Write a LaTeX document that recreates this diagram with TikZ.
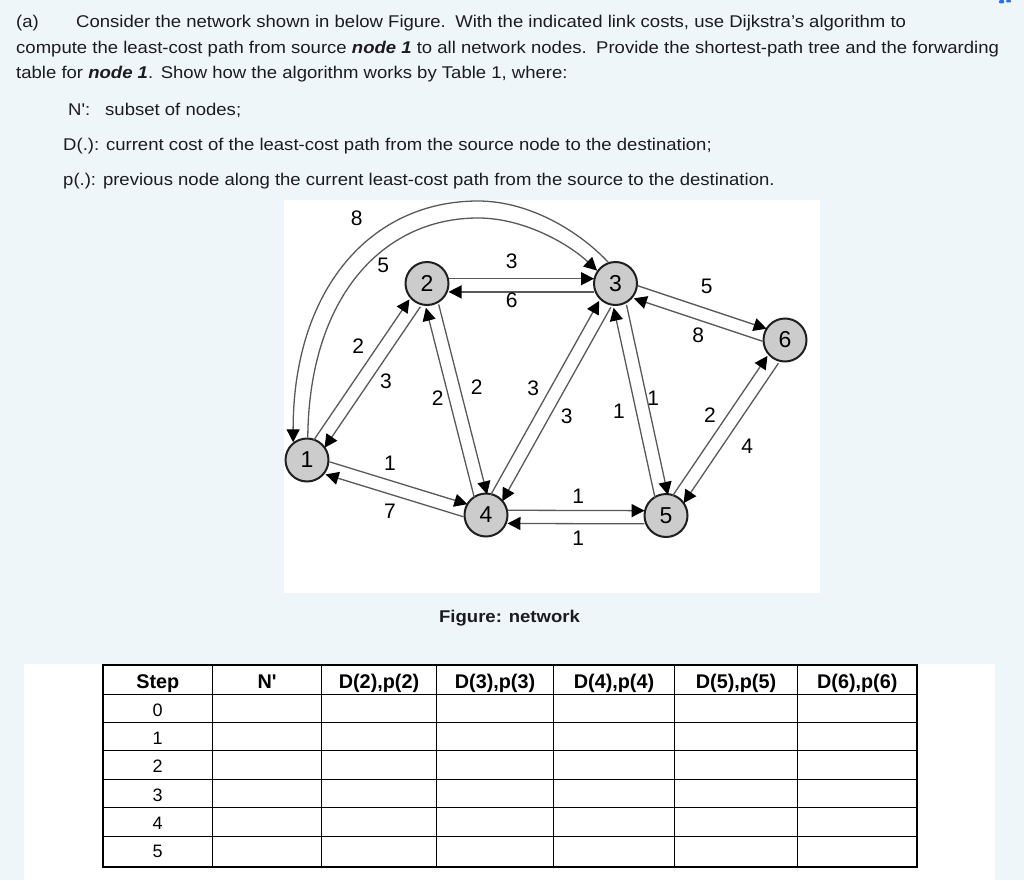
\documentclass[tikz,border=0pt]{standalone}
\usepackage{fontspec}
\setmainfont[Ligatures=TeXOff]{Liberation Sans}
\newfontfamily\bodyfont[FakeStretch=1.09,Ligatures=TeXOff]{Liberation Sans}
\newfontfamily\lblfont[Ligatures=TeXOff]{Liberation Sans}
\usetikzlibrary{calc,arrows.meta}

\definecolor{bgblue}{RGB}{238,246,250}
\definecolor{txtcol}{RGB}{28,28,30}
\definecolor{nodefill}{RGB}{204,204,204}
\definecolor{iconblue}{RGB}{40,110,230}

\tikzset{
  body/.style={font=\bodyfont\fontsize{17}{20}\selectfont, text=txtcol, inner sep=0pt, anchor=base west},
  netnode/.style={circle, draw=black!88, line width=2pt, fill=nodefill, minimum size=43pt, inner sep=0pt, font=\lblfont\fontsize{23}{23}\selectfont},
  wlabel/.style={font=\lblfont\fontsize{21}{21}\selectfont, inner sep=0pt, text=black},
  link/.style={draw=black!65, line width=1.3pt, -{Triangle[length=13pt,width=13pt,color=black]}, shorten >=21.5pt, shorten <=21.5pt},
  arclink/.style={draw=black!65, line width=1.3pt, -{Triangle[length=13pt,width=13pt,color=black]}},
  hdr/.style={font=\lblfont\fontsize{19.8}{20}\selectfont\bfseries, inner sep=0pt, anchor=base},
  cell/.style={font=\lblfont\fontsize{18}{20}\selectfont, inner sep=0pt, anchor=base},
  tblthin/.style={draw=black, line width=1.1pt},
  tblthick/.style={draw=black, line width=2pt},
}

\newcommand\dlink[2]{\draw[link] ($(c#1)!6.6pt!90:(c#2)$) -- ($(c#2)!6.6pt!-90:(c#1)$);}

\begin{document}
\begin{tikzpicture}[x=1pt,y=-1pt]
\useasboundingbox (0,0) rectangle (1024,880);
\fill[bgblue] (0,0) rectangle (1024,880);
\fill[white] (284,200) rectangle (820,593);
\fill[white] (24,664) rectangle (995,880);
\fill[iconblue, rounded corners=1pt] (999,0) rectangle (1004,3.5);
\fill[iconblue, rounded corners=1pt] (1006,0) rectangle (1011,2.5);

% ---------- question text ----------
\node[body] (ta) at (16,27.7) {(a)};
\node[body] (t1) at (76,27.7) {Consider the network shown in below Figure.\hspace{0.556em}With the indicated link costs, use Dijkstra’s algorithm to};
\node[body] (t2) at (16,53.3) {compute the least-cost path from source \textbf{\textit{node 1}} to all network nodes.\hspace{0.556em}Provide the shortest-path tree and the forwarding};
\node[body] (t3) at (16,79) {table for \textbf{\textit{node 1}}.\hspace{0.45em}Show how the algorithm works by Table 1, where:};
\node[body] (t4a) at (68,115) {N':};
\node[body] (t4) at (105,115) {subset of nodes;};
\node[body] (t5) at (63,150) {D(.): current cost of the least-cost path from the source node to the destination;};
\node[body] (t6) at (63,185) {p(.): previous node along the current least-cost path from the source to the destination.};

% ---------- network ----------
\node[netnode] (n1) at (307,460) {1};
\node[netnode] (n2) at (427,283.5) {2};
\node[netnode] (n3) at (615.5,283.5) {3};
\node[netnode] (n4) at (486,515) {4};
\node[netnode] (n5) at (666,515.5) {5};
\node[netnode] (n6) at (785,340) {6};
\foreach \i in {1,...,6} \coordinate (c\i) at ($(n\i)+(0,1.8)$);

\dlink{1}{2} \dlink{2}{1}
\dlink{2}{3} \dlink{3}{2}
\dlink{2}{4} \dlink{4}{2}
\dlink{3}{4} \dlink{4}{3}
\dlink{3}{5} \dlink{5}{3}
\dlink{3}{6} \dlink{6}{3}
\dlink{5}{6} \dlink{6}{5}
\dlink{1}{4} \dlink{4}{1}
\dlink{4}{5} \dlink{5}{4}

% arcs between 1 and 3
\draw[arclink] (n3.109) .. controls (580,232) and (530,201) .. (478,201)
  .. controls (370,201) and (293,290) .. (n1.128);
\draw[arclink] (n1.88) .. controls (309,298) and (382,218) .. (478,218)
  .. controls (525,218) and (570,245) .. (n3.145);

% link costs
\node[wlabel] (l31) at (356.7,218.3) {8};
\node[wlabel] (l13) at (383.3,265) {5};
\node[wlabel] (l12) at (358.3,345.7) {2};
\node[wlabel] (l21) at (386,381.7) {3};
\node[wlabel] (l23) at (511.7,261.7) {3};
\node[wlabel] (l32) at (511.7,300.5) {6};
\node[wlabel] (l42) at (437.7,398.3) {2};
\node[wlabel] (l24) at (476.7,386.7) {2};
\node[wlabel] (l43) at (533.3,388.3) {3};
\node[wlabel] (l34) at (566.7,416) {3};
\node[wlabel] (l53) at (619,411.7) {1};
\node[wlabel] (l35) at (653.3,398.3) {1};
\node[wlabel] (l36) at (706.7,286.7) {5};
\node[wlabel] (l63) at (698.3,335) {8};
\node[wlabel] (l56) at (710,415) {2};
\node[wlabel] (l65) at (747.3,446.7) {4};
\node[wlabel] (l14) at (390,463.3) {1};
\node[wlabel] (l41) at (390,511.7) {7};
\node[wlabel] (l45) at (578.3,496.7) {1};
\node[wlabel] (l54) at (578.3,538.3) {1};

\node[font=\bodyfont\fontsize{17}{20}\selectfont\bfseries, text=txtcol, inner sep=0pt, anchor=base] (cap) at (509.5,622.5) {Figure: network};

% ---------- table ----------
\foreach \x in {212.5,321.5,436.5,553.5,674.5,797.5} \draw[tblthin] (\x,665) -- (\x,867);
\foreach \y in {694.5,722.5,750.5,779.5,807.5,836.5} \draw[tblthin] (103,\y) -- (917,\y);
\draw[tblthick] (103,665) rectangle (917,867);

\node[hdr] (h1) at (157.75,688.7) {Step};
\node[hdr] (h2) at (267,688.7) {N'};
\node[hdr] (h3) at (379,688.7) {D(2),p(2)};
\node[hdr] (h4) at (495,688.7) {D(3),p(3)};
\node[hdr] (h5) at (614,688.7) {D(4),p(4)};
\node[hdr] (h6) at (736,688.7) {D(5),p(5)};
\node[hdr] (h7) at (857.25,688.7) {D(6),p(6)};

\node[cell] (s0) at (157.75,716) {0};
\node[cell] (s1) at (157.75,744.4) {1};
\node[cell] (s2) at (157.75,772.7) {2};
\node[cell] (s3) at (157.75,801) {3};
\node[cell] (s4) at (157.75,829.4) {4};
\node[cell] (s5) at (157.75,857.7) {5};
\end{tikzpicture}
\end{document}
